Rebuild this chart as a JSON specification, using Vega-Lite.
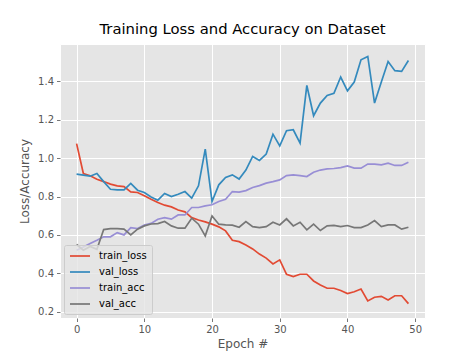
{
  "$schema": "https://vega.github.io/schema/vega-lite/v6.json",
  "autosize": {"type": "none"},
  "width": 365,
  "height": 274,
  "padding": {"left": 60, "top": 44, "right": 49, "bottom": 38},
  "background": "white",
  "title": {"text": "Training Loss and Accuracy on Dataset", "fontSize": 14.8, "font": "DejaVu Sans", "fontWeight": "normal", "color": "#000000", "offset": 7},
  "config": {
    "view": {"fill": "#E5E5E5", "stroke": "#FFFFFF", "strokeWidth": 1},
    "axis": {"domain": false, "grid": true, "gridColor": "#FFFFFF", "gridWidth": 1, "gridOpacity": 1, "tickColor": "#555555", "tickSize": 3.5, "tickWidth": 0.8, "labelColor": "#555555", "labelFont": "DejaVu Sans", "labelFontSize": 10, "titleColor": "#555555", "titleFont": "DejaVu Sans", "titleFontSize": 12, "titleFontWeight": "normal", "labelPadding": 3},
    "legend": {"orient": "bottom-left", "offset": 4, "fillColor": "rgba(229,229,229,0.8)", "strokeColor": "#CCCCCC", "padding": 5, "cornerRadius": 2, "symbolType": "M-1,0L3,0", "symbolSize": 100, "symbolStrokeWidth": 1.7, "labelFont": "DejaVu Sans", "labelFontSize": 10, "labelColor": "#000000", "labelOffset": 18, "rowPadding": 5}
  },
  "data": {"values": [
    {"epoch":0,"series":"train_loss","value":1.076},{"epoch":1,"series":"train_loss","value":0.92},{"epoch":2,"series":"train_loss","value":0.908},{"epoch":3,"series":"train_loss","value":0.89},{"epoch":4,"series":"train_loss","value":0.878},{"epoch":5,"series":"train_loss","value":0.865},{"epoch":6,"series":"train_loss","value":0.856},{"epoch":7,"series":"train_loss","value":0.852},{"epoch":8,"series":"train_loss","value":0.824},{"epoch":9,"series":"train_loss","value":0.821},
    {"epoch":10,"series":"train_loss","value":0.804},{"epoch":11,"series":"train_loss","value":0.786},{"epoch":12,"series":"train_loss","value":0.769},{"epoch":13,"series":"train_loss","value":0.755},{"epoch":14,"series":"train_loss","value":0.746},{"epoch":15,"series":"train_loss","value":0.73},{"epoch":16,"series":"train_loss","value":0.72},{"epoch":17,"series":"train_loss","value":0.69},{"epoch":18,"series":"train_loss","value":0.678},{"epoch":19,"series":"train_loss","value":0.668},
    {"epoch":20,"series":"train_loss","value":0.656},{"epoch":21,"series":"train_loss","value":0.642},{"epoch":22,"series":"train_loss","value":0.621},{"epoch":23,"series":"train_loss","value":0.572},{"epoch":24,"series":"train_loss","value":0.565},{"epoch":25,"series":"train_loss","value":0.548},{"epoch":26,"series":"train_loss","value":0.527},{"epoch":27,"series":"train_loss","value":0.5},{"epoch":28,"series":"train_loss","value":0.479},{"epoch":29,"series":"train_loss","value":0.449},
    {"epoch":30,"series":"train_loss","value":0.47},{"epoch":31,"series":"train_loss","value":0.395},{"epoch":32,"series":"train_loss","value":0.383},{"epoch":33,"series":"train_loss","value":0.395},{"epoch":34,"series":"train_loss","value":0.395},{"epoch":35,"series":"train_loss","value":0.36},{"epoch":36,"series":"train_loss","value":0.339},{"epoch":37,"series":"train_loss","value":0.322},{"epoch":38,"series":"train_loss","value":0.322},{"epoch":39,"series":"train_loss","value":0.31},
    {"epoch":40,"series":"train_loss","value":0.294},{"epoch":41,"series":"train_loss","value":0.304},{"epoch":42,"series":"train_loss","value":0.318},{"epoch":43,"series":"train_loss","value":0.256},{"epoch":44,"series":"train_loss","value":0.275},{"epoch":45,"series":"train_loss","value":0.28},{"epoch":46,"series":"train_loss","value":0.261},{"epoch":47,"series":"train_loss","value":0.283},{"epoch":48,"series":"train_loss","value":0.283},{"epoch":49,"series":"train_loss","value":0.242},
    {"epoch":0,"series":"val_loss","value":0.917},{"epoch":1,"series":"val_loss","value":0.912},{"epoch":2,"series":"val_loss","value":0.906},{"epoch":3,"series":"val_loss","value":0.92},{"epoch":4,"series":"val_loss","value":0.878},{"epoch":5,"series":"val_loss","value":0.838},{"epoch":6,"series":"val_loss","value":0.835},{"epoch":7,"series":"val_loss","value":0.835},{"epoch":8,"series":"val_loss","value":0.868},{"epoch":9,"series":"val_loss","value":0.833},
    {"epoch":10,"series":"val_loss","value":0.821},{"epoch":11,"series":"val_loss","value":0.798},{"epoch":12,"series":"val_loss","value":0.781},{"epoch":13,"series":"val_loss","value":0.816},{"epoch":14,"series":"val_loss","value":0.8},{"epoch":15,"series":"val_loss","value":0.812},{"epoch":16,"series":"val_loss","value":0.826},{"epoch":17,"series":"val_loss","value":0.792},{"epoch":18,"series":"val_loss","value":0.856},{"epoch":19,"series":"val_loss","value":1.047},
    {"epoch":20,"series":"val_loss","value":0.774},{"epoch":21,"series":"val_loss","value":0.861},{"epoch":22,"series":"val_loss","value":0.899},{"epoch":23,"series":"val_loss","value":0.913},{"epoch":24,"series":"val_loss","value":0.891},{"epoch":25,"series":"val_loss","value":0.938},{"epoch":26,"series":"val_loss","value":1.009},{"epoch":27,"series":"val_loss","value":0.988},{"epoch":28,"series":"val_loss","value":1.021},{"epoch":29,"series":"val_loss","value":1.125},
    {"epoch":30,"series":"val_loss","value":1.064},{"epoch":31,"series":"val_loss","value":1.143},{"epoch":32,"series":"val_loss","value":1.148},{"epoch":33,"series":"val_loss","value":1.078},{"epoch":34,"series":"val_loss","value":1.379},{"epoch":35,"series":"val_loss","value":1.221},{"epoch":36,"series":"val_loss","value":1.287},{"epoch":37,"series":"val_loss","value":1.327},{"epoch":38,"series":"val_loss","value":1.338},{"epoch":39,"series":"val_loss","value":1.423},
    {"epoch":40,"series":"val_loss","value":1.351},{"epoch":41,"series":"val_loss","value":1.397},{"epoch":42,"series":"val_loss","value":1.513},{"epoch":43,"series":"val_loss","value":1.53},{"epoch":44,"series":"val_loss","value":1.287},{"epoch":45,"series":"val_loss","value":1.397},{"epoch":46,"series":"val_loss","value":1.504},{"epoch":47,"series":"val_loss","value":1.456},{"epoch":48,"series":"val_loss","value":1.452},{"epoch":49,"series":"val_loss","value":1.509},
    {"epoch":0,"series":"train_acc","value":0.52},{"epoch":1,"series":"train_acc","value":0.537},{"epoch":2,"series":"train_acc","value":0.555},{"epoch":3,"series":"train_acc","value":0.572},{"epoch":4,"series":"train_acc","value":0.59},{"epoch":5,"series":"train_acc","value":0.59},{"epoch":6,"series":"train_acc","value":0.612},{"epoch":7,"series":"train_acc","value":0.6},{"epoch":8,"series":"train_acc","value":0.638},{"epoch":9,"series":"train_acc","value":0.633},
    {"epoch":10,"series":"train_acc","value":0.651},{"epoch":11,"series":"train_acc","value":0.66},{"epoch":12,"series":"train_acc","value":0.682},{"epoch":13,"series":"train_acc","value":0.69},{"epoch":14,"series":"train_acc","value":0.682},{"epoch":15,"series":"train_acc","value":0.704},{"epoch":16,"series":"train_acc","value":0.704},{"epoch":17,"series":"train_acc","value":0.743},{"epoch":18,"series":"train_acc","value":0.743},{"epoch":19,"series":"train_acc","value":0.751},
    {"epoch":20,"series":"train_acc","value":0.757},{"epoch":21,"series":"train_acc","value":0.774},{"epoch":22,"series":"train_acc","value":0.786},{"epoch":23,"series":"train_acc","value":0.826},{"epoch":24,"series":"train_acc","value":0.823},{"epoch":25,"series":"train_acc","value":0.831},{"epoch":26,"series":"train_acc","value":0.847},{"epoch":27,"series":"train_acc","value":0.857},{"epoch":28,"series":"train_acc","value":0.87},{"epoch":29,"series":"train_acc","value":0.878},
    {"epoch":30,"series":"train_acc","value":0.887},{"epoch":31,"series":"train_acc","value":0.909},{"epoch":32,"series":"train_acc","value":0.913},{"epoch":33,"series":"train_acc","value":0.909},{"epoch":34,"series":"train_acc","value":0.904},{"epoch":35,"series":"train_acc","value":0.927},{"epoch":36,"series":"train_acc","value":0.938},{"epoch":37,"series":"train_acc","value":0.944},{"epoch":38,"series":"train_acc","value":0.946},{"epoch":39,"series":"train_acc","value":0.951},
    {"epoch":40,"series":"train_acc","value":0.96},{"epoch":41,"series":"train_acc","value":0.948},{"epoch":42,"series":"train_acc","value":0.948},{"epoch":43,"series":"train_acc","value":0.969},{"epoch":44,"series":"train_acc","value":0.969},{"epoch":45,"series":"train_acc","value":0.965},{"epoch":46,"series":"train_acc","value":0.974},{"epoch":47,"series":"train_acc","value":0.962},{"epoch":48,"series":"train_acc","value":0.962},{"epoch":49,"series":"train_acc","value":0.979},
    {"epoch":0,"series":"val_acc","value":0.55},{"epoch":1,"series":"val_acc","value":0.52},{"epoch":2,"series":"val_acc","value":0.54},{"epoch":3,"series":"val_acc","value":0.525},{"epoch":4,"series":"val_acc","value":0.628},{"epoch":5,"series":"val_acc","value":0.633},{"epoch":6,"series":"val_acc","value":0.633},{"epoch":7,"series":"val_acc","value":0.63},{"epoch":8,"series":"val_acc","value":0.6},{"epoch":9,"series":"val_acc","value":0.63},
    {"epoch":10,"series":"val_acc","value":0.647},{"epoch":11,"series":"val_acc","value":0.657},{"epoch":12,"series":"val_acc","value":0.659},{"epoch":13,"series":"val_acc","value":0.67},{"epoch":14,"series":"val_acc","value":0.647},{"epoch":15,"series":"val_acc","value":0.635},{"epoch":16,"series":"val_acc","value":0.635},{"epoch":17,"series":"val_acc","value":0.687},{"epoch":18,"series":"val_acc","value":0.656},{"epoch":19,"series":"val_acc","value":0.595},
    {"epoch":20,"series":"val_acc","value":0.699},{"epoch":21,"series":"val_acc","value":0.656},{"epoch":22,"series":"val_acc","value":0.652},{"epoch":23,"series":"val_acc","value":0.651},{"epoch":24,"series":"val_acc","value":0.64},{"epoch":25,"series":"val_acc","value":0.67},{"epoch":26,"series":"val_acc","value":0.643},{"epoch":27,"series":"val_acc","value":0.638},{"epoch":28,"series":"val_acc","value":0.643},{"epoch":29,"series":"val_acc","value":0.666},
    {"epoch":30,"series":"val_acc","value":0.652},{"epoch":31,"series":"val_acc","value":0.684},{"epoch":32,"series":"val_acc","value":0.647},{"epoch":33,"series":"val_acc","value":0.666},{"epoch":34,"series":"val_acc","value":0.626},{"epoch":35,"series":"val_acc","value":0.656},{"epoch":36,"series":"val_acc","value":0.623},{"epoch":37,"series":"val_acc","value":0.647},{"epoch":38,"series":"val_acc","value":0.65},{"epoch":39,"series":"val_acc","value":0.643},
    {"epoch":40,"series":"val_acc","value":0.649},{"epoch":41,"series":"val_acc","value":0.638},{"epoch":42,"series":"val_acc","value":0.638},{"epoch":43,"series":"val_acc","value":0.652},{"epoch":44,"series":"val_acc","value":0.675},{"epoch":45,"series":"val_acc","value":0.643},{"epoch":46,"series":"val_acc","value":0.652},{"epoch":47,"series":"val_acc","value":0.652},{"epoch":48,"series":"val_acc","value":0.63},{"epoch":49,"series":"val_acc","value":0.64}
  ]},
  "mark": {"type": "line", "strokeWidth": 1.7, "clip": true},
  "encoding": {
    "x": {"field": "epoch", "type": "quantitative", "scale": {"domain": [-2.45, 51.45], "nice": false, "zero": false}, "axis": {"values": [0, 10, 20, 30, 40, 50], "title": "Epoch #", "titlePadding": 4}},
    "y": {"field": "value", "type": "quantitative", "scale": {"domain": [0.167, 1.595], "nice": false, "zero": false}, "axis": {"values": [0.2, 0.4, 0.6, 0.8, 1.0, 1.2, 1.4], "format": ".1f", "title": "Loss/Accuracy", "titlePadding": 6}},
    "color": {"field": "series", "type": "nominal", "scale": {"domain": ["train_loss", "val_loss", "train_acc", "val_acc"], "range": ["#E24A33", "#348ABD", "#988ED5", "#777777"]}, "legend": {"title": null}},
    "order": {"field": "epoch"}
  }
}
